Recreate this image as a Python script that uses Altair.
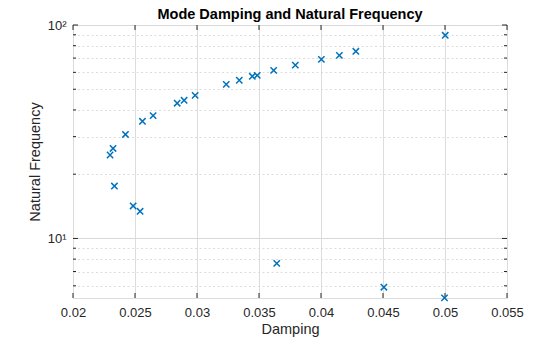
import altair as alt
import pandas as pd

# ---- data ----
damping = [0.02299, 0.02323, 0.02423, 0.02560, 0.02646, 0.02840, 0.02896, 0.02985,
           0.03236, 0.03341, 0.03446, 0.03486, 0.03618, 0.03793, 0.04003, 0.04148,
           0.04281, 0.05002, 0.02334, 0.02485, 0.02541, 0.03643, 0.04507, 0.04996]
freq = [24.6, 26.4, 30.7, 35.4, 37.6, 43.0, 44.4, 46.8,
        52.7, 55.1, 57.5, 58.1, 61.3, 64.9, 69.0, 72.1,
        75.3, 89.5, 17.6, 14.2, 13.4, 7.64, 5.91, 5.27]
x_ticks = [0.02, 0.025, 0.03, 0.035, 0.04, 0.045, 0.05, 0.055]
y_major = [10, 100]
y_minor = [6, 7, 8, 9, 20, 30, 40, 50, 60, 70, 80, 90]

W, H = 434, 273
FONT = "Liberation Sans"
AX = "#262626"

pts = pd.DataFrame({"Damping": damping, "Freq": freq})
xscale = alt.Scale(domain=[0.02, 0.055], nice=False, zero=False)
yscale = alt.Scale(type="log", domain=[5.26, 100], nice=False)

y_all = sorted(y_minor + y_major)
major_test = "datum.value == 10 || datum.value == 100"

x_axis = alt.Axis(values=x_ticks, format="~g", title="Damping", grid=True,
                  gridColor="#dcdcdc", gridWidth=1, ticks=False, domain=False,
                  labelFont=FONT, labelFontSize=13, labelColor=AX, labelPadding=8,
                  labelFlush=False, labelOverlap=False,
                  titleFont=FONT, titleFontSize=14.5, titleFontWeight="normal",
                  titleColor=AX, titlePadding=3)
y_axis = alt.Axis(values=y_all,
                  labelExpr="datum.value == 10 ? '10\u00b9' : datum.value == 100 ? '10\u00b2' : ''",
                  grid=True,
                  gridColor={"condition": {"test": major_test, "value": "#d9d9d9"}, "value": "#dcdcdc"},
                  gridDash={"condition": {"test": major_test, "value": []}, "value": [2, 2.5]},
                  gridWidth=1, ticks=False, domain=False, labelOverlap=False,
                  labelFont=FONT, labelFontSize=13, labelColor=AX, labelPadding=7,
                  title="Natural Frequency", titleFont=FONT, titleFontSize=14.5,
                  titleFontWeight="normal", titleColor=AX, titlePadding=5)

points = alt.Chart(pts).mark_point(
    shape="M-1,-1L1,1M-1,1L1,-1", filled=False, strokeWidth=1.5, size=40,
    color="#0072BD", opacity=1
).encode(
    x=alt.X("Damping:Q", scale=xscale, axis=x_axis),
    y=alt.Y("Freq:Q", scale=yscale, axis=y_axis),
)

xt = pd.DataFrame({"v": x_ticks})
ymaj = pd.DataFrame({"v": y_major})
ymin = pd.DataFrame({"v": y_minor})


def xtick(y0, y1):
    return alt.Chart(xt).mark_rule(color=AX, strokeWidth=1).encode(
        x=alt.X("v:Q", scale=xscale, axis=x_axis), y=alt.value(y0), y2=alt.value(y1))


def ytick(df, x0, x1):
    return alt.Chart(df).mark_rule(color=AX, strokeWidth=1).encode(
        y=alt.Y("v:Q", scale=yscale, axis=y_axis), x=alt.value(x0), x2=alt.value(x1))


chart = alt.layer(
    xtick(H, H - 5), xtick(0, 5),
    ytick(ymaj, 0, 5), ytick(ymaj, W, W - 5),
    ytick(ymin, 0, 3), ytick(ymin, W, W - 3),
    points,
).properties(
    width=W, height=H,
    title=alt.TitleParams("Mode Damping and Natural Frequency", font=FONT, fontSize=14.5,
                          fontWeight="bold", color="#000000", anchor="middle", offset=-3),
    autosize=alt.AutoSizeParams(type="none"),
    padding={"left": 73, "top": 25, "right": 53, "bottom": 39},
).configure_view(stroke=AX, strokeWidth=1).configure(background="white")

chart.save("out.html", embed_options={"renderer": "svg", "actions": False})
